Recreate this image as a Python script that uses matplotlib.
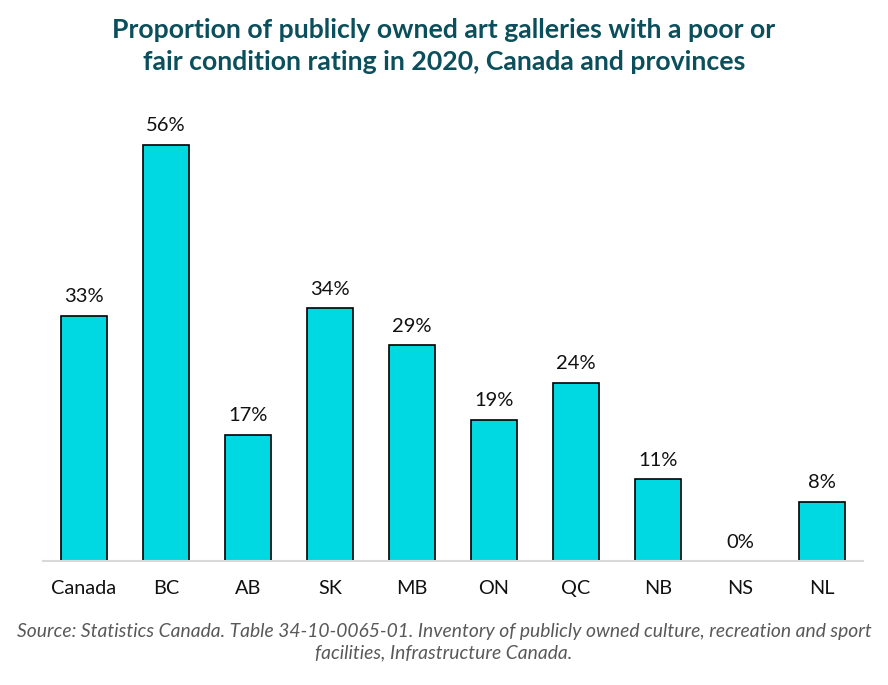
import matplotlib.pyplot as plt

# data
regions = ["Canada", "BC", "AB", "SK", "MB", "ON", "QC", "NB", "NS", "NL"]
pct = [33, 56, 17, 34, 29, 19, 24, 11, 0, 8]

plt.rcParams['font.family'] = ['Lato', 'DejaVu Sans']

fig = plt.figure(figsize=(8.88, 6.85), dpi=100)
ax = fig.add_axes([43 / 888, 124 / 685, 820 / 888, 461 / 685])

x = range(len(regions))
ax.bar(x, pct, width=0.56, color="#00D9E2", edgecolor="black", linewidth=1.2, zorder=2)
for i, v in enumerate(pct):
    ax.text(i, v + 1.4, f"{v}%", ha="center", va="bottom", fontsize=14.5, color="#111111")

ax.set_xlim(-0.5, len(regions) - 0.5)
ax.set_ylim(0, 62)
ax.set_xticks(list(x))
ax.set_xticklabels(regions, fontsize=14.3, color="#111111")
ax.tick_params(axis="x", length=0, pad=14)
ax.set_yticks([])
for s in ["top", "right", "left"]:
    ax.spines[s].set_visible(False)
ax.spines["bottom"].set_color("#D9D9D9")
ax.spines["bottom"].set_linewidth(1.5)

fig.text(0.5, 1 - 46 / 685, "Proportion of publicly owned art galleries with a poor or\nfair condition rating in 2020, Canada and provinces",
         ha="center", va="center", fontsize=19.2, fontweight="bold", color="#0B4F5C", linespacing=1.35)
fig.text(0.5, 1 - 642 / 685, "Source: Statistics Canada. Table 34-10-0065-01. Inventory of publicly owned culture, recreation and sport\nfacilities, Infrastructure Canada.",
         ha="center", va="center", fontsize=13.9, style="italic", color="#595959", linespacing=1.35)

fig.savefig("out.png", dpi=100)
